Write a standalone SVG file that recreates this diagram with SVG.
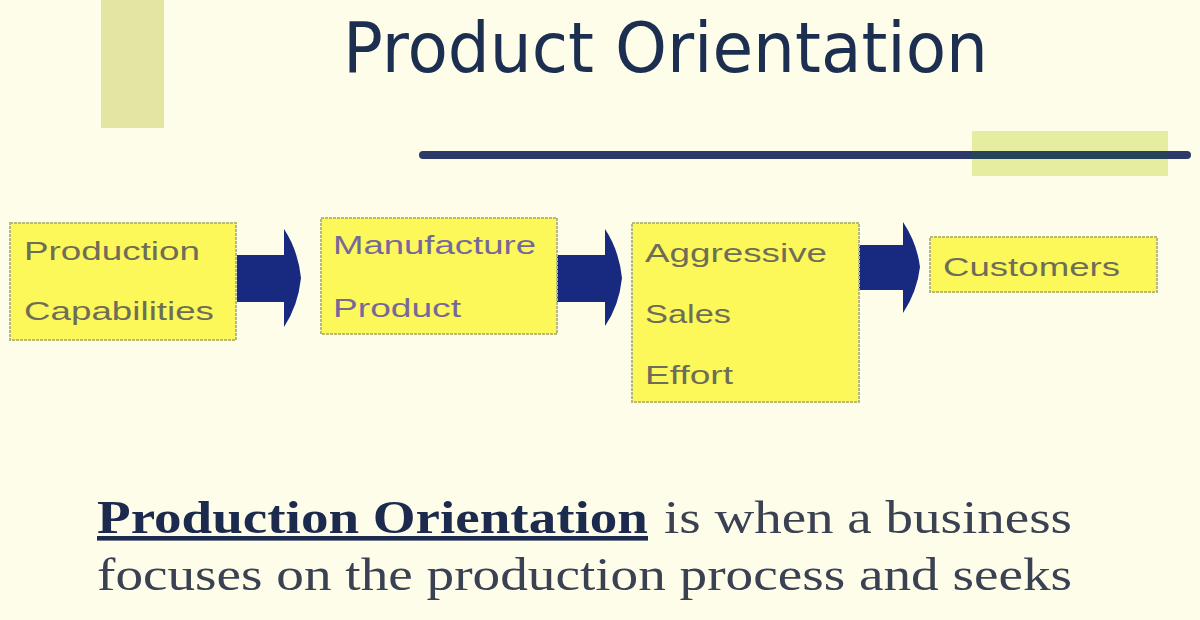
<svg xmlns="http://www.w3.org/2000/svg" width="1200" height="620" viewBox="0 0 1200 620">
<defs>
<style>
.box{fill:#fdf85a;stroke:#b8b878;stroke-width:2;stroke-dasharray:3 1}
.lbl{font-family:"Liberation Sans",Arial,sans-serif;font-size:25px;fill:#6e6e58}
.arrow{fill:#172a80}
.body{font-family:"Liberation Serif","Times New Roman",serif;font-size:46px;fill:#3a4152}
</style>
</defs>
<rect x="0" y="0" width="1200" height="620" fill="#fdfde9"/>
<rect x="101" y="0" width="63" height="128" fill="#e4e5a2"/>
<text x="343" y="72" font-family="DejaVu Sans,Verdana,sans-serif" font-size="70" fill="#1d2f50" textLength="645" lengthAdjust="spacingAndGlyphs">Product Orientation</text>
<rect x="972" y="131" width="196" height="45" fill="#e6eca0"/>
<line x1="423" y1="155" x2="1187" y2="155" stroke="#1b2a5c" stroke-width="8" stroke-linecap="round" opacity="0.92"/>
<rect x="972" y="151" width="196" height="8" fill="#1f5a4a" opacity="0.3"/>
<g id="connectors">
<path class="arrow" d="M237,255 H284 V229 Q298,250 301,278 Q298,306 284,327 V302 H237 Z"/>
<path class="arrow" d="M557,255 H605 V229 Q619,250 622,278 Q619,306 605,326 V302 H557 Z"/>
<path class="arrow" d="M858,245 H903 V222 Q917,243 920,267 Q917,292 903,313 V290 H858 Z"/>
</g>
<g id="node-production-capabilities">
<rect class="box" x="10" y="223" width="226" height="117"/>
<text class="lbl" x="24" y="260" textLength="176" lengthAdjust="spacingAndGlyphs">Production</text>
<text class="lbl" x="24" y="320" textLength="190" lengthAdjust="spacingAndGlyphs">Capabilities</text>
</g>
<g id="node-manufacture-product">
<rect class="box" x="321" y="218" width="236" height="116"/>
<text class="lbl" x="333" y="254" textLength="203" lengthAdjust="spacingAndGlyphs" style="fill:#76699a">Manufacture</text>
<text class="lbl" x="333" y="317" textLength="128" lengthAdjust="spacingAndGlyphs" style="fill:#76699a">Product</text>
</g>
<g id="node-aggressive-sales-effort">
<rect class="box" x="632" y="223" width="227" height="179"/>
<text class="lbl" x="645" y="262" textLength="182" lengthAdjust="spacingAndGlyphs">Aggressive</text>
<text class="lbl" x="645" y="323" textLength="86" lengthAdjust="spacingAndGlyphs">Sales</text>
<text class="lbl" x="645" y="384" textLength="88" lengthAdjust="spacingAndGlyphs">Effort</text>
</g>
<g id="node-customers">
<rect class="box" x="930" y="237" width="227" height="55"/>
<text class="lbl" x="943" y="276" textLength="177" lengthAdjust="spacingAndGlyphs">Customers</text>
</g>
<text class="body" x="97" y="533"><tspan font-weight="bold" fill="#1c2a4e" text-decoration="underline" textLength="551" lengthAdjust="spacingAndGlyphs">Production Orientation</tspan></text>
<text class="body" x="664" y="533" textLength="408" lengthAdjust="spacingAndGlyphs">is when a business</text>
<text class="body" x="97" y="590" textLength="975" lengthAdjust="spacingAndGlyphs">focuses on the production process and seeks</text>
</svg>
